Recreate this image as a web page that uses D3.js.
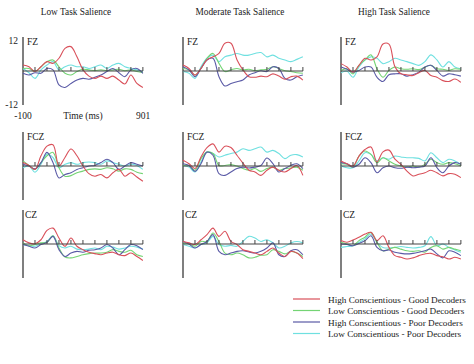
<!DOCTYPE html>
<html>
<head>
<meta charset="utf-8">
<script src="https://cdn.jsdelivr.net/npm/d3@7/dist/d3.min.js"></script>
<style>
  body { margin: 0; background: #fff; }
  svg text { font-family: "Liberation Serif", "Times New Roman", serif; fill: #222; }
</style>
</head>
<body>
<svg id="chart" width="474" height="364"></svg>
<script>
// time points (ms)
const times = [-100, -50, 0, 50, 100, 150, 200, 250, 300, 350, 400, 450, 500, 550, 600, 650, 700, 750, 800, 850, 900];
const columns = ["Low Task Salience", "Moderate Task Salience", "High Task Salience"];
const sites = ["FZ", "FCZ", "CZ"];
const groups = [
  "High Conscientious - Good Decoders",
  "Low Conscientious - Good Decoders",
  "High Conscientious - Poor Decoders",
  "Low Conscientious - Poor Decoders"
];
const groupColors = ["#d9505a", "#74d474", "#5a5aa6", "#6fe0e0"];
const xTicks = [0, 100, 200, 300, 400, 500, 600, 700, 800, 900];

// FZ, low salience
const lowFZ_hcGood = [2.1, 1.5, -0.2, 1.5, 3.3, 2.7, 4.5, 8.0, 8.6, 5.0, 0.5, -1.8, -2.6, -1.8, -2.6, -1.8, -3.2, -4.6, -1.4, -4.4, -5.8];
const lowFZ_lcGood = [0.9, 0.9, -0.2, 1.5, 3.3, 3.9, 1.5, -0.8, -1.4, -0.2, 0.6, 0.4, 0.1, 0.4, 0.1, 0.4, 0.6, 0.1, 0.4, -0.2, -0.6];
const lowFZ_hcPoor = [-0.8, -1.4, -0.6, -0.8, 0.9, 0.4, -4.9, -5.8, -4.4, -3.2, -2.6, -2.9, -2.2, -1.4, -0.2, 0.9, -0.6, -2.0, 0.4, 0.9, -0.8];
const lowFZ_lcPoor = [0.9, -0.6, -2.6, 0.4, 2.1, 3.3, 0.4, 1.5, 2.1, 1.5, 1.5, 0.9, 1.5, 2.1, 0.9, 2.1, 2.7, 1.5, 0.9, 0.4, -0.2];
// FZ, moderate salience
const modFZ_hcGood = [2.1, 0.9, -1.4, 0.9, 3.9, 5.0, 6.2, 9.8, 9.8, 4.0, 0.4, -2.0, -2.2, -1.8, -2.0, -1.0, -1.8, -2.9, -2.0, -1.8, -3.2];
const modFZ_lcGood = [0.9, 0.4, -1.4, 0.9, 4.5, 6.2, 2.7, -0.2, 0.4, 0.9, 0.4, 0.6, 0.1, 0.4, 0.6, 1.5, 0.9, 0.1, -0.2, -0.6, -0.8];
const modFZ_hcPoor = [1.5, 0.4, -2.0, 0.9, 3.9, 4.5, -2.0, -5.3, -4.4, -3.8, -3.2, -1.4, -0.6, 0.1, -0.2, 1.5, 0.9, -2.6, -3.2, -2.0, -1.4];
const modFZ_lcPoor = [-0.2, -0.8, -2.6, 1.5, 4.5, 5.6, 3.3, 5.0, 5.6, 6.2, 5.6, 5.6, 6.2, 6.5, 5.0, 5.6, 4.5, 3.9, 3.3, 4.1, 5.0];
// FZ, high salience
const highFZ_hcGood = [2.6, 1.4, -0.4, 2.0, 4.5, 3.9, 5.0, 9.5, 9.5, 1.5, -1.0, -1.3, -1.6, -0.6, 0.2, -1.6, -2.2, -3.4, -3.7, -2.8, -4.0];
const highFZ_lcGood = [0.2, 0.8, -1.0, 2.0, 3.9, 5.7, 0.8, -2.2, 0.2, 1.4, 0.8, 0.6, 0.8, 0.5, 1.4, 2.0, 0.8, 0.6, 0.2, 0.8, 0.6];
const highFZ_hcPoor = [1.4, 0.6, -0.4, 0.2, 1.4, 1.4, -2.2, -3.7, -1.3, -1.0, -1.0, -1.8, -1.3, -0.4, 1.4, 2.0, 0.2, -1.8, -1.0, -1.3, -1.8];
const highFZ_lcPoor = [-0.6, -0.1, -2.2, 1.4, 3.9, 5.0, 4.5, 2.6, 3.3, 4.5, 3.9, 3.3, 2.6, 2.0, 3.3, 5.7, 3.9, 1.4, 3.3, 1.4, 0.8];

// FCZ, low salience
const lowFCZ_hcGood = [1.2, 0.2, -1.2, 3.6, 7.0, 7.5, 0.0, 3.0, 6.0, 3.6, 0.0, -2.7, -3.6, -3.0, -4.2, -2.4, -1.2, -3.6, -2.4, -3.9, -5.4];
const lowFCZ_lcGood = [1.8, 0.2, -1.2, 1.2, 3.6, 4.8, -0.6, -3.6, -3.4, -2.4, -1.8, -1.2, -1.0, -1.2, -0.6, -1.0, -1.8, -1.0, -1.2, -2.2, -2.7];
const lowFCZ_hcPoor = [0.6, 0.0, -1.0, 1.2, 4.8, 1.2, -4.2, -3.0, -2.4, -1.2, -0.6, 0.0, 0.2, 1.2, 2.4, 1.2, -1.2, 0.0, 1.2, 0.6, 0.0];
const lowFCZ_lcPoor = [-0.6, 0.0, -2.2, 0.6, 4.2, 3.0, -0.6, 0.6, 1.2, 0.6, 1.2, 1.4, 1.2, 0.6, 1.8, 1.2, 0.6, 0.0, 0.6, 0.2, -1.2];
// FCZ, moderate salience
const modFCZ_hcGood = [2.0, 0.8, -0.9, 3.2, 6.5, 7.8, 4.9, 7.0, 6.5, 3.8, 1.0, -1.5, -2.1, -3.3, -1.5, -0.4, -1.5, -2.1, -0.9, 0.2, -3.3];
const modFCZ_lcGood = [0.2, 0.2, -1.5, 2.6, 4.9, 4.4, 0.2, 0.2, 0.5, 0.0, -0.9, -1.5, -0.9, -1.9, -0.9, -0.4, -1.5, -0.9, -0.7, -0.4, -1.5];
const modFCZ_hcPoor = [0.8, 0.2, -1.9, 0.8, 4.9, 3.8, -2.7, -3.3, -2.1, -0.9, -0.4, -0.7, -0.4, 0.2, 2.8, 0.8, -2.1, -0.9, 0.2, 0.8, -0.9];
const modFCZ_lcPoor = [0.2, -0.4, -2.1, 1.4, 4.9, 4.4, 3.2, 3.8, 4.4, 4.9, 6.1, 5.5, 6.1, 6.7, 4.9, 5.5, 4.4, 2.6, 3.8, 4.0, 3.2];
// FCZ, high salience
const highFCZ_hcGood = [1.8, 0.8, 0.0, 3.5, 5.8, 6.7, 1.5, 5.0, 5.6, 2.4, 0.6, -1.8, -3.5, -2.9, -2.4, -1.5, -2.4, -3.5, -2.7, -2.9, -4.1];
const highFCZ_lcGood = [0.8, 0.6, -0.4, 3.5, 5.3, 4.1, 1.2, 2.9, 1.8, 0.6, 0.0, -0.4, 0.0, -0.4, 0.6, 2.4, 1.2, 0.6, 1.2, 0.8, 0.0];
const highFCZ_hcPoor = [1.2, 0.8, -0.4, 0.6, 2.9, 1.2, -2.4, -0.6, 0.0, -0.6, -0.8, -0.4, -0.6, -0.4, 0.0, 2.9, -0.6, -2.4, 0.0, 1.2, 0.6];
const highFCZ_lcPoor = [0.0, -0.6, -0.6, 1.8, 4.7, 4.1, 1.8, 2.9, 2.4, 3.5, 3.2, 2.9, 2.9, 2.7, 1.8, 4.7, 2.9, 1.2, 2.4, 1.8, 0.6];

// CZ, low salience
const lowCZ_hcGood = [1.5, 0.4, 0.1, 1.5, 4.8, 5.6, 2.1, -0.8, 2.1, -0.8, -2.0, -2.9, -3.4, -3.8, -3.2, -2.9, -3.8, -4.1, -3.2, -4.4, -5.8];
const lowCZ_lcGood = [0.4, -0.6, -0.2, 0.4, 0.6, 2.9, -1.4, -4.6, -4.9, -4.4, -3.8, -3.4, -3.2, -3.2, -2.9, -2.0, -2.6, -2.9, -2.2, -3.8, -4.4];
const lowCZ_hcPoor = [-0.2, -0.8, -1.4, -0.2, 0.6, 2.7, -2.0, -4.4, -3.2, -2.6, -2.9, -2.2, -2.0, -1.4, -0.2, -1.4, -3.8, -2.0, -0.2, -0.6, -2.0];
const lowCZ_lcPoor = [-0.2, -0.6, -0.8, 0.1, 0.9, 2.9, -0.6, -1.4, -0.8, -1.8, -2.0, -1.8, -1.4, -2.0, -0.8, -1.1, -1.8, -1.4, -0.8, -1.1, -1.8];
// CZ, moderate salience
const modCZ_hcGood = [0.9, 0.4, -0.2, 1.5, 3.3, 5.6, 2.7, 4.5, 0.9, -0.2, -2.0, -2.6, -3.2, -3.8, -2.6, -1.4, -3.2, -4.4, -2.6, -3.2, -5.2];
const modCZ_lcGood = [0.4, 0.0, -0.8, 0.9, 0.9, 3.9, 0.9, -3.2, -3.8, -3.2, -3.8, -4.9, -4.7, -4.0, -3.8, -2.0, -2.6, -3.5, -2.6, -3.2, -4.4];
const modCZ_hcPoor = [0.9, 0.0, -1.4, -0.2, 0.9, 3.3, -2.6, -3.8, -3.2, -2.6, -2.4, -2.8, -3.2, -2.6, -1.4, 0.4, -3.8, -4.4, -2.4, -2.0, -3.8];
const modCZ_lcPoor = [-0.2, -0.8, -1.4, -0.2, 0.4, 2.7, -0.2, -0.8, -0.5, -0.8, 0.9, 2.7, 2.1, 0.9, 1.5, 0.4, -1.4, -0.8, 0.4, 0.9, 0.4];
// CZ, high salience
const highCZ_hcGood = [1.2, 0.6, 1.4, 2.4, 3.5, 4.1, 1.2, 2.9, -1.2, -4.1, -4.7, -5.3, -4.9, -4.1, -3.5, -3.3, -4.1, -4.5, -5.3, -4.7, -5.3];
const highCZ_lcGood = [0.6, 0.0, -0.6, 1.2, 2.4, 4.1, 0.6, -2.4, -1.8, -1.2, -1.8, -2.4, -2.6, -2.4, -2.9, -1.2, -0.6, -1.8, -1.2, -1.8, -2.4];
const highCZ_hcPoor = [0.0, -0.2, -0.6, 0.2, 1.2, 2.9, -1.2, -2.4, -2.1, -2.9, -3.3, -3.5, -3.3, -2.9, -2.4, -1.8, -3.5, -4.9, -2.4, -2.9, -4.1];
const highCZ_lcPoor = [-1.2, -0.9, -0.6, 0.6, 1.8, 3.5, 0.6, -1.2, -1.4, -1.2, -0.9, -1.2, -1.4, -1.2, -0.6, 2.6, -0.6, 0.0, -1.2, -2.1, -2.9];

// rows = sites, cols = salience; each cell lists the 4 groups
const panelData = [
  [[lowFZ_hcGood, lowFZ_lcGood, lowFZ_hcPoor, lowFZ_lcPoor],
   [modFZ_hcGood, modFZ_lcGood, modFZ_hcPoor, modFZ_lcPoor],
   [highFZ_hcGood, highFZ_lcGood, highFZ_hcPoor, highFZ_lcPoor]],
  [[lowFCZ_hcGood, lowFCZ_lcGood, lowFCZ_hcPoor, lowFCZ_lcPoor],
   [modFCZ_hcGood, modFCZ_lcGood, modFCZ_hcPoor, modFCZ_lcPoor],
   [highFCZ_hcGood, highFCZ_lcGood, highFCZ_hcPoor, highFCZ_lcPoor]],
  [[lowCZ_hcGood, lowCZ_lcGood, lowCZ_hcPoor, lowCZ_lcPoor],
   [modCZ_hcGood, modCZ_lcGood, modCZ_hcPoor, modCZ_lcPoor],
   [highCZ_hcGood, highCZ_lcGood, highCZ_hcPoor, highCZ_lcPoor]]
];

const svg = d3.select("#chart");

// layout
const colX = [23, 183, 341];
const colCenter = [76, 240, 394];
const rowZero = [71, 166, 244];
const plotW = 120, halfH = 34;

// column titles
svg.selectAll(".title")
  .data(columns)
  .enter().append("text")
  .attr("x", (d, i) => colCenter[i])
  .attr("y", 15)
  .attr("text-anchor", "middle")
  .style("font-size", "9.3px")
  .text(d => d);

const drawOrder = [3, 1, 2, 0]; // red ends up on top

sites.forEach((site, r) => {
  columns.forEach((col, c) => {
    const x = d3.scaleLinear().domain([-100, 901]).range([colX[c], colX[c] + plotW]);
    const y = d3.scaleLinear().domain([-12, 12]).range([rowZero[r] + halfH, rowZero[r] - halfH]);
    const g = svg.append("g");

    // vertical axis
    g.append("line")
      .attr("x1", x(-100)).attr("x2", x(-100))
      .attr("y1", y(12)).attr("y2", y(-12))
      .attr("stroke", "#555").attr("stroke-width", 1.5);

    const line = d3.line()
      .x((d, i) => x(times[i]))
      .y(d => y(d))
      .curve(d3.curveCatmullRom.alpha(0.5));

    drawOrder.forEach(k => {
      g.append("path")
        .attr("d", line(panelData[r][c][k]))
        .attr("fill", "none")
        .attr("stroke", groupColors[k])
        .attr("stroke-width", 1.1);
    });

    // zero line with ticks
    g.append("line")
      .attr("x1", x(-100)).attr("x2", x(901))
      .attr("y1", y(0)).attr("y2", y(0))
      .attr("stroke", "#444").attr("stroke-width", 1.2);
    g.selectAll(".tick")
      .data(xTicks)
      .enter().append("line")
      .attr("x1", d => x(d)).attr("x2", d => x(d))
      .attr("y1", y(0)).attr("y2", y(0) - 4)
      .attr("stroke", "#444").attr("stroke-width", 1);

    // site label
    g.append("text")
      .attr("x", x(-100) + (site === "CZ" ? 2 : 4))
      .attr("y", y(12) + 8)
      .style("font-size", "9.5px")
      .text(site);

    if (r === 0 && c === 0) {
      g.append("text").attr("x", x(-100) - 5).attr("y", y(12) + 7)
        .attr("text-anchor", "end").style("font-size", "9.5px").text("12");
      g.append("text").attr("x", x(-100) - 5).attr("y", y(-12) + 3)
        .attr("text-anchor", "end").style("font-size", "9.5px").text("-12");
      g.append("text").attr("x", x(-100)).attr("y", y(-12) + 14)
        .attr("text-anchor", "middle").style("font-size", "9.5px").text("-100");
      g.append("text").attr("x", x(400)).attr("y", y(-12) + 14)
        .attr("text-anchor", "middle").style("font-size", "9.5px").text("Time (ms)");
      g.append("text").attr("x", x(901)).attr("y", y(-12) + 14)
        .attr("text-anchor", "middle").style("font-size", "9.5px").text("901");
    }
  });
});

// legend
const legend = svg.append("g").attr("transform", "translate(293,299)");
const leg = legend.selectAll("g")
  .data(groups)
  .enter().append("g")
  .attr("transform", (d, i) => `translate(0,${i * 11.5})`);
leg.append("line")
  .attr("x1", 0).attr("x2", 27)
  .attr("stroke", (d, i) => groupColors[i]).attr("stroke-width", 1.2);
leg.append("text")
  .attr("x", 35).attr("y", 3.5)
  .style("font-size", "9.2px")
  .text(d => d);
</script>
</body>
</html>
